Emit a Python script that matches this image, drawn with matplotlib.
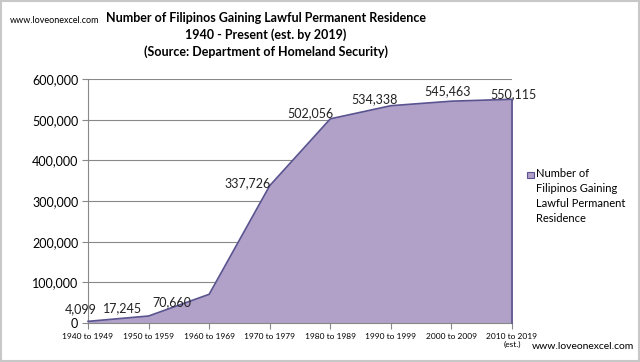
import matplotlib.pyplot as plt
from matplotlib.patches import Rectangle

plt.rcParams['font.family'] = ['Lato', 'DejaVu Sans']

decades = ["1940 to 1949", "1950 to 1959", "1960 to 1969", "1970 to 1979",
           "1980 to 1989", "1990 to 1999", "2000 to 2009", "2010 to 2019\n(est.)"]
residents = [4099, 17245, 70660, 337726, 502056, 534338, 545463, 550115]
# label offsets in points (dx, dy)
label_offsets = [(-5, 9), (-19, 6), (-27, -6), (-16, 2), (-14, 4), (-12, 5), (-3, 7), (1, 4)]

fill_color = "#b1a1c9"
edge_color = "#5a5590"

fig = plt.figure(figsize=(6.4, 3.62), dpi=100)
fig.patches.append(Rectangle((0.002, 0.003), 0.996, 0.994, transform=fig.transFigure,
                             fill=False, edgecolor="#c8c8c8", linewidth=1.5))
ax = fig.add_axes([0.1375, 0.1077, 0.6625, 0.6741])

x = list(range(len(residents)))
ax.fill_between(x, residents, 0, color=fill_color, zorder=2)
ax.plot(x + [x[-1]], residents + [0], color=edge_color, linewidth=1.2, zorder=3,
        clip_on=False)

for i, (v, off) in enumerate(zip(residents, label_offsets)):
    ax.annotate(f"{v:,}", (i, v), xytext=off, textcoords="offset points",
                ha="center", va="center", fontsize=9, color="#222222", zorder=4)

ax.set_xlim(0, len(residents) - 1)
ax.set_ylim(0, 600000)
ax.set_yticks(range(0, 600001, 100000))
ax.set_yticklabels([f"{t:,}" for t in range(0, 600001, 100000)], fontsize=9)
ax.set_xticks(x)
ax.set_xticklabels(decades, fontsize=6, va="top")
ax.yaxis.grid(True, color="#888888", linewidth=0.8, zorder=1)
ax.set_axisbelow(True)
for s in ["top", "right"]:
    ax.spines[s].set_visible(False)
ax.spines["left"].set_color("#888888")
ax.spines["bottom"].set_color("#888888")
ax.tick_params(axis="y", length=4, color="#888888", pad=3)
ax.tick_params(axis="x", length=4, color="#888888", pad=3, direction="out")

fig.text(0.415, 0.968, "Number of Filipinos Gaining Lawful Permanent Residence\n"
         "1940 - Present (est. by 2019)\n(Source: Department of Homeland Security)",
         ha="center", va="top", fontsize=9, fontweight="bold", linespacing=1.45)
fig.text(0.016, 0.955, "www.loveonexcel.com", fontsize=6.5, va="top", ha="left")
fig.text(0.99, 0.03, "www.loveonexcel.com", fontsize=7.5, va="bottom", ha="right")

# legend
fig.patches.append(Rectangle((0.823, 0.508), 0.011, 0.017, transform=fig.transFigure,
                             facecolor=fill_color, edgecolor=edge_color, linewidth=0.8))
fig.text(0.8375, 0.537, "Number of\nFilipinos Gaining\nLawful Permanent\nResidence",
         fontsize=8, va="top", ha="left", linespacing=1.45)

fig.savefig("out.png", dpi=100)
